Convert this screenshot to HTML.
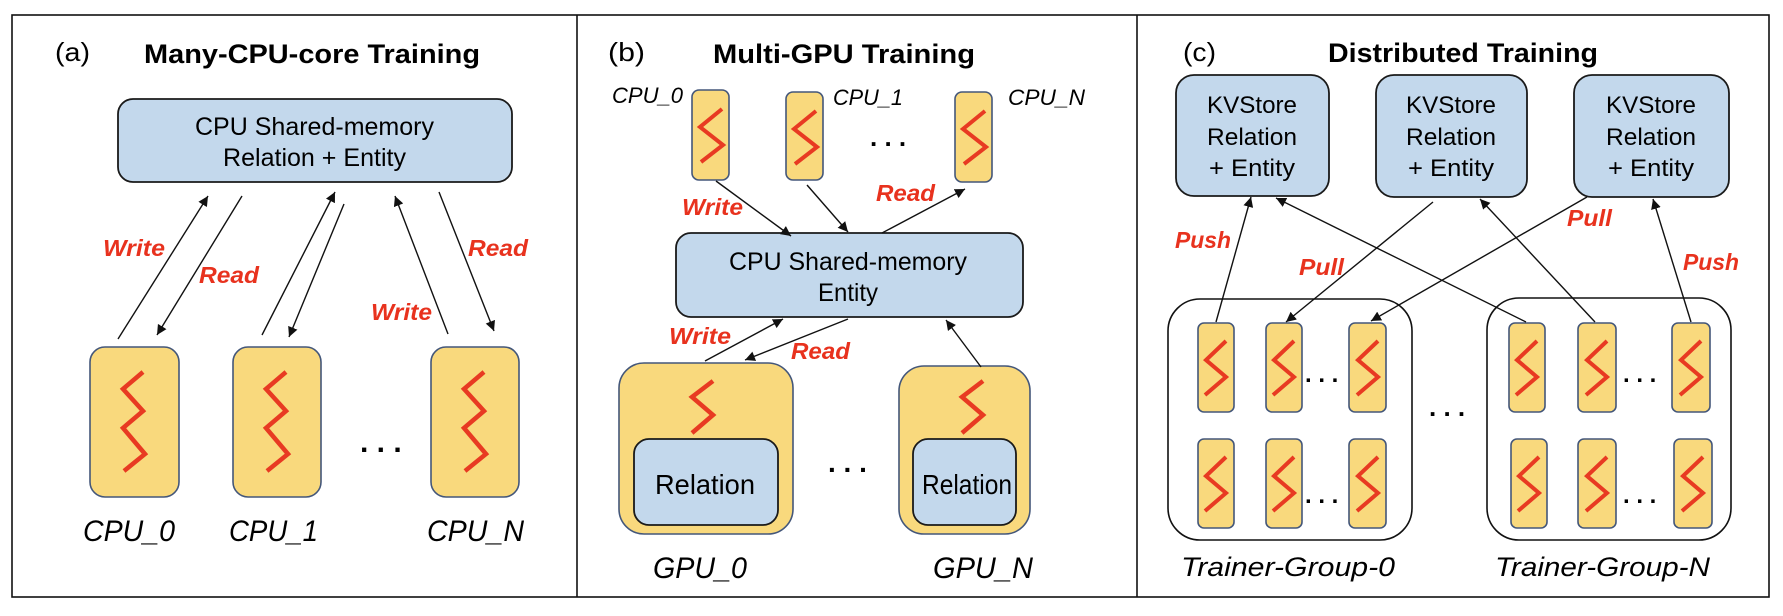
<!DOCTYPE html>
<html><head><meta charset="utf-8"><style>
html,body{margin:0;padding:0;background:#fff}
svg{display:block}
text{font-family:"Liberation Sans",sans-serif}
.t{font-weight:bold;font-size:27px}
.l{font-size:30px;font-style:italic}
.r{fill:#e8321e;font-weight:bold;font-style:italic;font-size:23px}
.d{font-weight:bold}
.zz{fill:none;stroke:#e83a22;stroke-width:4.5;stroke-linejoin:miter}
.tile{fill:#f9d97d;stroke:#44577a;stroke-width:1.6}
.blue{fill:#c3d8ec;stroke:#1a1a1a;stroke-width:1.8}
.ar{stroke:#111;stroke-width:1.4;fill:none}
</style></head><body>
<svg width="1783" height="616" viewBox="0 0 1783 616" xmlns="http://www.w3.org/2000/svg">
<defs>
<marker id="a" viewBox="0 0 10 10" refX="10" refY="5" markerWidth="10" markerHeight="10" markerUnits="userSpaceOnUse" orient="auto">
<path d="M0,0 L10,5 L0,10 z" fill="#111"/></marker>
</defs>
<rect x="12" y="15" width="1757" height="582" fill="none" stroke="#111" stroke-width="1.6"/>
<line x1="577" y1="15" x2="577" y2="597" stroke="#111" stroke-width="1.6"/>
<line x1="1137" y1="15" x2="1137" y2="597" stroke="#111" stroke-width="1.6"/>

<!-- (a) -->
<text x="55" y="61" font-size="26" textLength="35" lengthAdjust="spacingAndGlyphs">(a)</text>
<text x="144" y="63" class="t" textLength="336" lengthAdjust="spacingAndGlyphs">Many-CPU-core Training</text>
<rect x="118" y="99" width="394" height="83" rx="15" class="blue"/>
<text x="195" y="135" font-size="25" textLength="239" lengthAdjust="spacingAndGlyphs">CPU Shared-memory</text>
<text x="223" y="166" font-size="25" textLength="183" lengthAdjust="spacingAndGlyphs">Relation + Entity</text>
<g>
<rect x="90" y="347" width="89" height="150" rx="15" class="tile"/>
<polyline class="zz" points="143,372 123,389 143,411 123,428 145,454 124,471"/>
<rect x="233" y="347" width="88" height="150" rx="15" class="tile"/>
<polyline class="zz" points="286,372 266,389 286,411 266,428 288,454 267,471"/>
<rect x="431" y="347" width="88" height="150" rx="15" class="tile"/>
<polyline class="zz" points="484,372 464,389 484,411 464,428 486,454 465,471"/>
</g>
<text x="360" y="452" font-size="30" class="d">. . .</text>
<text x="83" y="541" class="l" textLength="92" lengthAdjust="spacingAndGlyphs">CPU_0</text>
<text x="229" y="541" class="l" textLength="89" lengthAdjust="spacingAndGlyphs">CPU_1</text>
<text x="427" y="541" class="l" textLength="97" lengthAdjust="spacingAndGlyphs">CPU_N</text>
<line class="ar" x1="118" y1="339" x2="208" y2="196" marker-end="url(#a)"/>
<line class="ar" x1="242" y1="196" x2="157" y2="335" marker-end="url(#a)"/>
<line class="ar" x1="262" y1="335" x2="335" y2="192" marker-end="url(#a)"/>
<line class="ar" x1="344" y1="204" x2="289" y2="337" marker-end="url(#a)"/>
<line class="ar" x1="448" y1="334" x2="395" y2="196" marker-end="url(#a)"/>
<line class="ar" x1="439" y1="192" x2="494" y2="331" marker-end="url(#a)"/>
<text x="103" y="256" class="r" textLength="62" lengthAdjust="spacingAndGlyphs">Write</text>
<text x="199" y="283" class="r" textLength="60" lengthAdjust="spacingAndGlyphs">Read</text>
<text x="371" y="320" class="r" textLength="61" lengthAdjust="spacingAndGlyphs">Write</text>
<text x="468" y="256" class="r" textLength="60" lengthAdjust="spacingAndGlyphs">Read</text>

<!-- (b) -->
<text x="608" y="61" font-size="26" textLength="37" lengthAdjust="spacingAndGlyphs">(b)</text>
<text x="713" y="63" class="t" textLength="262" lengthAdjust="spacingAndGlyphs">Multi-GPU Training</text>
<text x="612" y="103" font-size="22" font-style="italic" textLength="71" lengthAdjust="spacingAndGlyphs">CPU_0</text>
<text x="833" y="105" font-size="22" font-style="italic" textLength="70" lengthAdjust="spacingAndGlyphs">CPU_1</text>
<text x="1008" y="105" font-size="22" font-style="italic" textLength="77" lengthAdjust="spacingAndGlyphs">CPU_N</text>
<rect x="692" y="90" width="37" height="90" rx="7" class="tile"/>
<polyline class="zz" style="stroke-width:4" points="722,109 700,127 723,145 701,162"/>
<rect x="786" y="92" width="37" height="88" rx="7" class="tile"/>
<polyline class="zz" style="stroke-width:4" points="816,111 794,129 817,147 795,164"/>
<rect x="955" y="92" width="37" height="90" rx="7" class="tile"/>
<polyline class="zz" style="stroke-width:4" points="985,111 963,129 986,147 964,164"/>
<text x="870" y="146" font-size="26" class="d">. . .</text>
<rect x="676" y="233" width="347" height="84" rx="15" class="blue"/>
<text x="729" y="270" font-size="25" textLength="238" lengthAdjust="spacingAndGlyphs">CPU Shared-memory</text>
<text x="818" y="301" font-size="25" textLength="60" lengthAdjust="spacingAndGlyphs">Entity</text>
<line class="ar" x1="716" y1="181" x2="791" y2="236" marker-end="url(#a)"/>
<line class="ar" x1="807" y1="185" x2="848" y2="232" marker-end="url(#a)"/>
<line class="ar" x1="882" y1="233" x2="965" y2="189" marker-end="url(#a)"/>
<text x="682" y="215" class="r" textLength="61" lengthAdjust="spacingAndGlyphs">Write</text>
<text x="876" y="201" class="r" textLength="59" lengthAdjust="spacingAndGlyphs">Read</text>
<rect x="619" y="363" width="174" height="171" rx="25" class="tile"/>
<rect x="634" y="439" width="144" height="86" rx="15" class="blue"/>
<polyline class="zz" points="713,381 692,397 713,415 692,433"/>
<text x="655" y="494" font-size="28" textLength="100" lengthAdjust="spacingAndGlyphs">Relation</text>
<rect x="899" y="366" width="131" height="168" rx="25" class="tile"/>
<rect x="913" y="439" width="103" height="86" rx="15" class="blue"/>
<polyline class="zz" points="983,381 962,397 983,415 962,433"/>
<text x="922" y="494" font-size="28" textLength="90" lengthAdjust="spacingAndGlyphs">Relation</text>
<text x="828" y="472" font-size="28" class="d">. . .</text>
<text x="653" y="578" class="l" textLength="94" lengthAdjust="spacingAndGlyphs">GPU_0</text>
<text x="933" y="578" class="l" textLength="100" lengthAdjust="spacingAndGlyphs">GPU_N</text>
<line class="ar" x1="705" y1="361" x2="783" y2="319" marker-end="url(#a)"/>
<line class="ar" x1="848" y1="319" x2="745" y2="360" marker-end="url(#a)"/>
<line class="ar" x1="981" y1="367" x2="946" y2="320" marker-end="url(#a)"/>
<text x="669" y="344" class="r" textLength="62" lengthAdjust="spacingAndGlyphs">Write</text>
<text x="791" y="359" class="r" textLength="59" lengthAdjust="spacingAndGlyphs">Read</text>

<!-- (c) -->
<text x="1183" y="61" font-size="26" textLength="33" lengthAdjust="spacingAndGlyphs">(c)</text>
<text x="1328" y="62" class="t" textLength="270" lengthAdjust="spacingAndGlyphs">Distributed Training</text>
<g font-size="24">
<rect x="1176" y="75" width="153" height="121" rx="18" class="blue"/>
<text x="1207" y="113" textLength="90" lengthAdjust="spacingAndGlyphs">KVStore</text>
<text x="1207" y="145" textLength="90" lengthAdjust="spacingAndGlyphs">Relation</text>
<text x="1209" y="176" textLength="86" lengthAdjust="spacingAndGlyphs">+ Entity</text>
<rect x="1376" y="75" width="151" height="122" rx="18" class="blue"/>
<text x="1406" y="113" textLength="90" lengthAdjust="spacingAndGlyphs">KVStore</text>
<text x="1406" y="145" textLength="90" lengthAdjust="spacingAndGlyphs">Relation</text>
<text x="1408" y="176" textLength="86" lengthAdjust="spacingAndGlyphs">+ Entity</text>
<rect x="1574" y="75" width="155" height="122" rx="18" class="blue"/>
<text x="1606" y="113" textLength="90" lengthAdjust="spacingAndGlyphs">KVStore</text>
<text x="1606" y="145" textLength="90" lengthAdjust="spacingAndGlyphs">Relation</text>
<text x="1608" y="176" textLength="86" lengthAdjust="spacingAndGlyphs">+ Entity</text>
</g>
<rect x="1168" y="299" width="244" height="241" rx="32" fill="none" stroke="#111" stroke-width="1.6"/>
<rect x="1487" y="298" width="244" height="242" rx="32" fill="none" stroke="#111" stroke-width="1.6"/>
<g>
<rect x="1198" y="323" width="36" height="89" rx="6" class="tile"/>
<polyline class="zz" style="stroke-width:4" points="1226,341 1206,360 1226,377 1205,395"/>
<rect x="1266" y="323" width="36" height="89" rx="6" class="tile"/>
<polyline class="zz" style="stroke-width:4" points="1294,341 1274,360 1294,377 1273,395"/>
<rect x="1349" y="323" width="37" height="89" rx="6" class="tile"/>
<polyline class="zz" style="stroke-width:4" points="1378,341 1358,360 1378,377 1357,395"/>
<rect x="1198" y="439" width="36" height="89" rx="6" class="tile"/>
<polyline class="zz" style="stroke-width:4" points="1226,457 1206,476 1226,493 1205,511"/>
<rect x="1266" y="439" width="36" height="89" rx="6" class="tile"/>
<polyline class="zz" style="stroke-width:4" points="1294,457 1274,476 1294,493 1273,511"/>
<rect x="1349" y="439" width="37" height="89" rx="6" class="tile"/>
<polyline class="zz" style="stroke-width:4" points="1378,457 1358,476 1378,493 1357,511"/>
<text x="1305" y="382" font-size="24" class="d">. . .</text>
<text x="1305" y="503" font-size="24" class="d">. . .</text>
</g>
<g transform="translate(311,0)">
<rect x="1198" y="323" width="36" height="89" rx="6" class="tile"/>
<polyline class="zz" style="stroke-width:4" points="1226,341 1206,360 1226,377 1205,395"/>
<rect x="1267" y="323" width="38" height="89" rx="6" class="tile"/>
<polyline class="zz" style="stroke-width:4" points="1296,341 1276,360 1296,377 1275,395"/>
<rect x="1361" y="323" width="38" height="89" rx="6" class="tile"/>
<polyline class="zz" style="stroke-width:4" points="1390,341 1370,360 1390,377 1369,395"/>
<rect x="1200" y="439" width="36" height="89" rx="6" class="tile"/>
<polyline class="zz" style="stroke-width:4" points="1228,457 1208,476 1228,493 1207,511"/>
<rect x="1267" y="439" width="38" height="89" rx="6" class="tile"/>
<polyline class="zz" style="stroke-width:4" points="1296,457 1276,476 1296,493 1275,511"/>
<rect x="1363" y="439" width="38" height="89" rx="6" class="tile"/>
<polyline class="zz" style="stroke-width:4" points="1392,457 1372,476 1392,493 1371,511"/>
<text x="1312" y="382" font-size="24" class="d">. . .</text>
<text x="1312" y="503" font-size="24" class="d">. . .</text>
</g>
<text x="1429" y="416" font-size="26" class="d">. . .</text>
<text x="1181" y="576" font-size="27" font-style="italic" textLength="214" lengthAdjust="spacingAndGlyphs">Trainer-Group-0</text>
<text x="1495" y="576" font-size="27" font-style="italic" textLength="215" lengthAdjust="spacingAndGlyphs">Trainer-Group-N</text>
<line class="ar" x1="1216" y1="322" x2="1251" y2="197" marker-end="url(#a)"/>
<line class="ar" x1="1433" y1="202" x2="1286" y2="322" marker-end="url(#a)"/>
<line class="ar" x1="1587" y1="197" x2="1371" y2="321" marker-end="url(#a)"/>
<line class="ar" x1="1526" y1="322" x2="1276" y2="198" marker-end="url(#a)"/>
<line class="ar" x1="1595" y1="322" x2="1480" y2="199" marker-end="url(#a)"/>
<line class="ar" x1="1691" y1="322" x2="1653" y2="199" marker-end="url(#a)"/>
<text x="1175" y="248" class="r" textLength="56" lengthAdjust="spacingAndGlyphs">Push</text>
<text x="1299" y="275" class="r" textLength="45" lengthAdjust="spacingAndGlyphs">Pull</text>
<text x="1567" y="226" class="r" textLength="45" lengthAdjust="spacingAndGlyphs">Pull</text>
<text x="1683" y="270" class="r" textLength="56" lengthAdjust="spacingAndGlyphs">Push</text>
</svg>
</body></html>
